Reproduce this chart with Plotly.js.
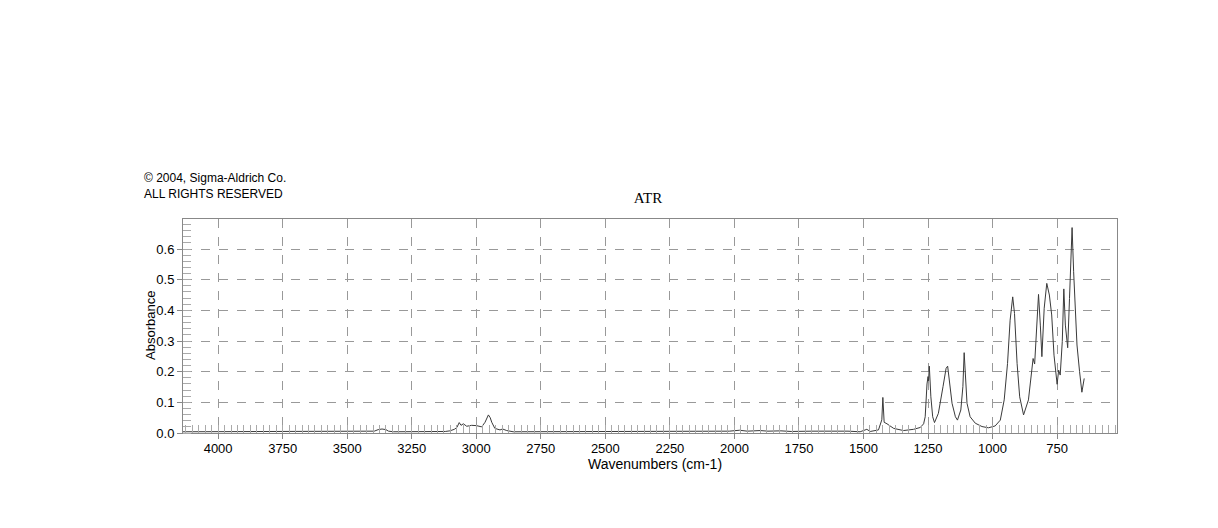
<!DOCTYPE html>
<html>
<head>
<meta charset="utf-8">
<script src="https://cdn.plot.ly/plotly-3.0.1.min.js"></script>
<style>
  html, body { margin: 0; padding: 0; background: #fff; }
  #chart { width: 1218px; height: 528px; }
</style>
</head>
<body>
<div id="chart"></div>
<script>
// spectrum, high wavenumber to low
var wavenumbers = [
  4136, 4000, 3800, 3600, 3420, 3395, 3380, 3365, 3350, 3340, 3320, 3250, 3180, 3141,
  3120, 3102, 3085, 3075, 3066, 3059, 3050, 3037, 3018, 2999, 2979, 2966, 2958, 2953,
  2946, 2940, 2928, 2908, 2898, 2882, 2857, 2800, 2700, 2600, 2500, 2400, 2300, 2200,
  2100, 2020, 1980, 1950, 1900, 1870, 1820, 1780, 1700, 1650, 1600, 1560, 1513, 1487,
  1474, 1442, 1429, 1425, 1420, 1409, 1383, 1345, 1306, 1280, 1267, 1261, 1254, 1250,
  1248, 1245, 1239, 1232, 1225, 1210, 1192, 1180, 1174, 1167, 1157, 1144, 1136, 1123,
  1115, 1110, 1104, 1099, 1087, 1067, 1041, 1016, 990, 970, 955, 942, 932, 922,
  915, 905, 895, 880, 861, 847, 843, 837, 826, 822, 815, 809, 800, 790,
  780, 771, 762, 754, 750, 744, 738, 730, 724, 718, 709, 702, 692, 686,
  673, 663, 654, 645
];
var absorbance = [
  0.004, 0.004, 0.004, 0.004, 0.004, 0.006, 0.011, 0.013, 0.011, 0.006, 0.004, 0.004, 0.004, 0.004,
  0.005, 0.007, 0.012, 0.018, 0.034, 0.025, 0.030, 0.022, 0.025, 0.024, 0.020, 0.035, 0.050, 0.059,
  0.050, 0.035, 0.015, 0.010, 0.013, 0.008, 0.004, 0.004, 0.004, 0.004, 0.004, 0.004, 0.004, 0.004,
  0.005, 0.006, 0.009, 0.006, 0.008, 0.006, 0.007, 0.005, 0.006, 0.006, 0.008, 0.006, 0.004, 0.012,
  0.005, 0.010, 0.043, 0.116, 0.035, 0.030, 0.015, 0.008, 0.012, 0.018, 0.030, 0.053, 0.160, 0.184,
  0.170, 0.218, 0.118, 0.053, 0.034, 0.064, 0.151, 0.211, 0.218, 0.173, 0.097, 0.053, 0.042, 0.075,
  0.151, 0.262, 0.173, 0.097, 0.053, 0.032, 0.021, 0.017, 0.023, 0.042, 0.108, 0.227, 0.368, 0.444,
  0.390, 0.227, 0.118, 0.059, 0.108, 0.216, 0.243, 0.225, 0.385, 0.452, 0.352, 0.249, 0.407, 0.488,
  0.450, 0.385, 0.254, 0.173, 0.159, 0.205, 0.189, 0.298, 0.470, 0.352, 0.278, 0.439, 0.670, 0.526,
  0.287, 0.200, 0.133, 0.178
];

var xTicks = [4000, 3750, 3500, 3250, 3000, 2750, 2500, 2250, 2000, 1750, 1500, 1250, 1000, 750];
var yTicks = [0.0, 0.1, 0.2, 0.3, 0.4, 0.5, 0.6];

var sans = 'Liberation Sans, Arial, sans-serif';

var trace = {
  x: wavenumbers,
  y: absorbance,
  type: 'scatter',
  mode: 'lines',
  line: { color: '#3a3a3a', width: 1 },
  hoverinfo: 'skip'
};

// plot box in pixels: x 183..1117, y 219..433
var layout = {
  width: 1218,
  height: 528,
  margin: { l: 183, r: 101, t: 219, b: 95 },
  paper_bgcolor: '#fff',
  plot_bgcolor: '#fff',
  showlegend: false,
  font: { family: sans, size: 13, color: '#000' },
  title: {
    text: 'ATR',
    font: { family: 'Liberation Serif, Times New Roman, serif', size: 15, color: '#000' },
    x: 648 / 1218, xref: 'container', xanchor: 'center',
    y: 1 - 198 / 528, yref: 'container', yanchor: 'middle'
  },
  xaxis: {
    range: [4136, 518],
    tickvals: xTicks,
    ticktext: xTicks.map(String),
    ticks: 'outside', ticklen: 5, tickcolor: '#888',
    ticklabelstandoff: -2,
    showgrid: true, gridcolor: '#999', griddash: 'dash', gridwidth: 1,
    showline: true, linecolor: '#888', linewidth: 1, mirror: true,
    zeroline: false,
    minor: { dtick: 25, tick0: 0, ticks: 'inside', ticklen: 8, tickcolor: '#aaa', showgrid: false },
    tickfont: { family: sans, size: 13, color: '#000' }
  },
  yaxis: {
    range: [0, 0.698],
    tickvals: yTicks,
    ticktext: yTicks.map(function (v) { return v.toFixed(1); }),
    ticks: 'outside', ticklen: 5, tickcolor: '#888',
    showgrid: true, gridcolor: '#999', griddash: 'dash', gridwidth: 1,
    showline: true, linecolor: '#888', linewidth: 1, mirror: true,
    zeroline: false,
    minor: { dtick: 0.02, tick0: 0, ticks: 'inside', ticklen: 8, tickcolor: '#aaa', showgrid: false },
    tickfont: { family: sans, size: 13, color: '#000' }
  },
  annotations: [
    {
      text: '© 2004, Sigma-Aldrich Co.<br>ALL RIGHTS RESERVED',
      xref: 'paper', yref: 'paper',
      x: (142 - 183) / 934, y: (433 - 169) / 214,
      xanchor: 'left', yanchor: 'top', align: 'left',
      showarrow: false,
      font: { family: sans, size: 12, color: '#000' }
    },
    {
      text: 'Wavenumbers (cm-1)',
      xref: 'paper', yref: 'paper',
      x: (655 - 183) / 934, y: (433 - 464) / 214,
      xanchor: 'center', yanchor: 'middle',
      showarrow: false,
      font: { family: sans, size: 14, color: '#000' }
    },
    {
      text: 'Absorbance',
      xref: 'paper', yref: 'paper',
      x: (150 - 183) / 934, y: (433 - 326) / 214,
      xanchor: 'center', yanchor: 'middle', textangle: -90,
      showarrow: false,
      font: { family: sans, size: 13, color: '#000' }
    }
  ]
};

Plotly.newPlot('chart', [trace], layout, { staticPlot: true, displayModeBar: false });
</script>
</body>
</html>
